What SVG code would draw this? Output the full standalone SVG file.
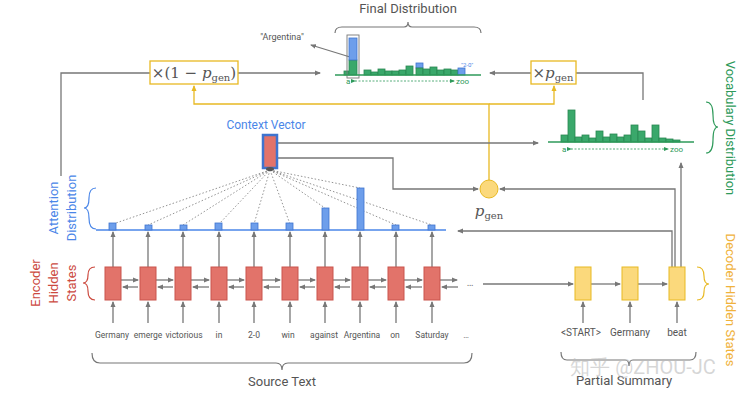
<svg xmlns="http://www.w3.org/2000/svg" width="740" height="401" viewBox="0 0 740 401">
<defs>
<marker id="ar" markerWidth="6" markerHeight="6" refX="5" refY="3" orient="auto" markerUnits="userSpaceOnUse"><path d="M0,0.5 L6,3 L0,5.5 z" fill="#777"/></marker>
<marker id="ay" markerWidth="6" markerHeight="6" refX="5" refY="3" orient="auto" markerUnits="userSpaceOnUse"><path d="M0,0.5 L6,3 L0,5.5 z" fill="#e8b923"/></marker>
<marker id="ag" markerWidth="5" markerHeight="5" refX="4" refY="2.5" orient="auto" markerUnits="userSpaceOnUse"><path d="M0,0.5 L5,2.5 L0,4.5 z" fill="#2e9a5a"/></marker>
</defs>
<style>
text{font-family:Roboto,"Liberation Sans",sans-serif}
.w{font-size:8.5px;fill:#555;text-anchor:middle}
.ln{fill:none;stroke:#777;stroke-width:1.3}
.yl{fill:none;stroke:#e8b923;stroke-width:1.3}
.enc{fill:#e2736a;stroke:#c9554c;stroke-width:1}
.dec{fill:#fbd97c;stroke:#e8b923;stroke-width:1}
.att{fill:#6d9eeb;stroke:#3f74cf;stroke-width:0.8}
.g{fill:#3aa86b;stroke:#2a8752;stroke-width:0.8}
.dot{stroke:#888;stroke-width:0.9;stroke-dasharray:1.5,2;fill:none}
.br{fill:none;stroke:#777;stroke-width:1.2}
.math{font-family:"DejaVu Serif","Liberation Serif",serif;font-size:15px;fill:#555}
</style>
<rect width="740" height="401" fill="#fff"/>

<g id="connectors">
<path class="ln" d="M61,176 V73 H150"/>
<path class="ln" d="M238,73 H320" marker-end="url(#ar)"/>
<path class="ln" d="M643,100 V73 H576"/>
<path class="ln" d="M531,73 H490" marker-end="url(#ar)"/>
<path class="yl" d="M489,181 V104 H194 V86" marker-end="url(#ay)"/>
<path class="yl" d="M489,104 H554 V86" marker-end="url(#ay)"/>
<path class="ln" d="M278,143 H538" marker-end="url(#ar)"/>
<path class="ln" d="M278,158 H393 V189 H478" marker-end="url(#ar)"/>
<path class="ln" d="M675,267 V189 H500" marker-end="url(#ar)"/>
<path class="ln" d="M672,267 V231 H458" marker-end="url(#ar)"/>
<path class="ln" d="M681,267 V163" marker-end="url(#ar)"/>
<path class="ln" d="M483,284 H573" marker-end="url(#ar)"/>
<path class="ln" d="M591,284 H620" marker-end="url(#ar)"/>
<path class="ln" d="M638,284 H667" marker-end="url(#ar)"/>
<g class="dot">
<path d="M270,170 L113,224"/><path d="M270,170 L148,225"/><path d="M270,170 L183,225"/><path d="M270,170 L219,224"/><path d="M270,170 L254,224"/><path d="M270,170 L290,224"/><path d="M270,170 L325,208"/><path d="M270,170 L360,188"/><path d="M270,170 L396,225"/><path d="M270,170 L432,225"/>
</g>
<path class="ln" d="M350,57 L311,45" marker-end="url(#ar)"/>
</g>

<g id="encoder">
<g class="ln">
<path d="M121,280 H138" marker-end="url(#ar)"/><path d="M156,280 H173" marker-end="url(#ar)"/><path d="M191,280 H209" marker-end="url(#ar)"/><path d="M227,280 H244" marker-end="url(#ar)"/><path d="M262,280 H280" marker-end="url(#ar)"/><path d="M298,280 H315" marker-end="url(#ar)"/><path d="M333,280 H350" marker-end="url(#ar)"/><path d="M368,280 H386" marker-end="url(#ar)"/><path d="M404,280 H422" marker-end="url(#ar)"/><path d="M440,280 H457" marker-end="url(#ar)"/>
<path d="M138,287 H123" marker-end="url(#ar)"/><path d="M173,287 H158" marker-end="url(#ar)"/><path d="M209,287 H193" marker-end="url(#ar)"/><path d="M244,287 H229" marker-end="url(#ar)"/><path d="M280,287 H264" marker-end="url(#ar)"/><path d="M315,287 H300" marker-end="url(#ar)"/><path d="M350,287 H335" marker-end="url(#ar)"/><path d="M386,287 H370" marker-end="url(#ar)"/><path d="M422,287 H406" marker-end="url(#ar)"/><path d="M458,287 H442" marker-end="url(#ar)"/>
</g>
<g class="ln">
<path d="M113,323 V302" marker-end="url(#ar)"/><path d="M148,323 V302" marker-end="url(#ar)"/><path d="M183,323 V302" marker-end="url(#ar)"/><path d="M219,323 V302" marker-end="url(#ar)"/><path d="M254,323 V302" marker-end="url(#ar)"/><path d="M290,323 V302" marker-end="url(#ar)"/><path d="M325,323 V302" marker-end="url(#ar)"/><path d="M360,323 V302" marker-end="url(#ar)"/><path d="M396,323 V302" marker-end="url(#ar)"/><path d="M432,323 V302" marker-end="url(#ar)"/>
<path d="M113,267 V232" marker-end="url(#ar)"/><path d="M148,267 V232" marker-end="url(#ar)"/><path d="M183,267 V232" marker-end="url(#ar)"/><path d="M219,267 V232" marker-end="url(#ar)"/><path d="M254,267 V232" marker-end="url(#ar)"/><path d="M290,267 V232" marker-end="url(#ar)"/><path d="M325,267 V232" marker-end="url(#ar)"/><path d="M360,267 V232" marker-end="url(#ar)"/><path d="M396,267 V232" marker-end="url(#ar)"/><path d="M432,267 V232" marker-end="url(#ar)"/>
</g>
<rect class="enc" x="105" y="267" width="16" height="33"/><rect class="enc" x="140" y="267" width="16" height="33"/><rect class="enc" x="175" y="267" width="16" height="33"/><rect class="enc" x="211" y="267" width="16" height="33"/><rect class="enc" x="246" y="267" width="16" height="33"/><rect class="enc" x="282" y="267" width="16" height="33"/><rect class="enc" x="317" y="267" width="16" height="33"/><rect class="enc" x="352" y="267" width="16" height="33"/><rect class="enc" x="388" y="267" width="16" height="33"/><rect class="enc" x="424" y="267" width="16" height="33"/>
<text x="470" y="286" font-size="10" fill="#777" text-anchor="middle">…</text>
<text class="w" x="112" y="338">Germany</text><text class="w" x="148" y="338">emerge</text><text class="w" x="184" y="338">victorious</text><text class="w" x="219" y="338">in</text><text class="w" x="254" y="338">2-0</text><text class="w" x="288" y="338">win</text><text class="w" x="324" y="338">against</text><text class="w" x="362" y="338">Argentina</text><text class="w" x="395" y="338">on</text><text class="w" x="432" y="338">Saturday</text><text class="w" x="466" y="338">…</text>
<path class="br" d="M92,353 Q92,363 100,363 H276 Q282,363 282,370 Q282,363 288,363 H464 Q472,363 472,353"/>
<text x="282" y="386" font-size="13" fill="#555" text-anchor="middle">Source Text</text>
<text transform="translate(40,283) rotate(-90)" font-size="13" fill="#cc4a3f" text-anchor="middle">Encoder</text>
<text transform="translate(58,283) rotate(-90)" font-size="13" fill="#cc4a3f" text-anchor="middle">Hidden</text>
<text transform="translate(76,283) rotate(-90)" font-size="13" fill="#cc4a3f" text-anchor="middle">States</text>
<path fill="none" stroke="#cc4a3f" stroke-width="1.2" d="M95,267 Q88,267 88,275 Q88,283 83,283 Q88,283 88,291 Q88,300 95,300"/>
</g>

<g id="attention">
<line x1="96" y1="230" x2="446" y2="230" stroke="#4a86e8" stroke-width="1.3"/>
<rect class="att" x="109" y="223" width="7" height="7"/><rect class="att" x="145" y="225" width="7" height="5"/><rect class="att" x="180" y="225" width="7" height="5"/><rect class="att" x="215" y="223" width="7" height="7"/><rect class="att" x="251" y="223" width="7" height="7"/><rect class="att" x="286" y="223" width="7" height="7"/><rect class="att" x="322" y="208" width="7" height="22"/><rect class="att" x="357" y="188" width="7" height="42"/><rect class="att" x="392" y="225" width="7" height="5"/><rect class="att" x="428" y="225" width="7" height="5"/>
<text transform="translate(58,208) rotate(-90)" font-size="13" fill="#4a86e8" text-anchor="middle">Attention</text>
<text transform="translate(76,208) rotate(-90)" font-size="13" fill="#4a86e8" text-anchor="middle">Distribution</text>
<path fill="none" stroke="#4a86e8" stroke-width="1.2" d="M96,188 Q89,188 89,198 Q89,208 84,208 Q89,208 89,218 Q89,229 96,229"/>
</g>

<g id="context">
<text x="266" y="129" font-size="12" fill="#4a86e8" text-anchor="middle">Context Vector</text>
<rect x="263" y="135" width="14" height="33" fill="#e2736a" stroke="#3f74cf" stroke-width="2.5"/>
<ellipse cx="270" cy="169" rx="4" ry="2" fill="#555"/>
</g>

<g id="pgen">
<circle cx="489" cy="189" r="9" fill="#fbd97c" stroke="#e8b923"/>
<text x="489" y="216" class="math" text-anchor="middle" font-style="italic">p<tspan font-size="10" font-style="normal" dy="3">gen</tspan></text>
</g>

<g id="mult1">
<rect x="150" y="61" width="88" height="23" fill="#fff" stroke="#e8b923" stroke-width="1.3"/>
<text x="194" y="78" class="math" text-anchor="middle">×(1 − <tspan font-style="italic">p</tspan><tspan font-size="10" dy="3">gen</tspan><tspan dy="-3">)</tspan></text>
</g>
<g id="mult2">
<rect x="531" y="61" width="45" height="23" fill="#fff" stroke="#e8b923" stroke-width="1.3"/>
<text x="553" y="78" class="math" text-anchor="middle">×<tspan font-style="italic">p</tspan><tspan font-size="10" dy="3">gen</tspan></text>
</g>

<g id="final">
<text x="408" y="13" font-size="13" fill="#555" text-anchor="middle">Final Distribution</text>
<path class="br" d="M335,33 Q335,27 342,27 H404 Q408,27 408,22 Q408,27 412,27 H474 Q481,27 481,33"/>
<rect class="g" x="344" y="71" width="5" height="4"/>
<rect class="g" x="349" y="60" width="8" height="15"/><rect class="att" x="349" y="38" width="8" height="22"/>
<rect x="347" y="35" width="12" height="43" fill="none" stroke="#777" stroke-width="0.9"/>
<rect class="g" x="364" y="70" width="7" height="5"/><rect class="g" x="371" y="72" width="7" height="3"/><rect class="g" x="378" y="69" width="7" height="6"/><rect class="g" x="385" y="71" width="7" height="4"/><rect class="g" x="392" y="71" width="7" height="4"/><rect class="g" x="399" y="70" width="7" height="5"/><rect class="g" x="406" y="66" width="7" height="9"/><rect class="att" x="416" y="63" width="7" height="5"/><rect class="g" x="416" y="68" width="7" height="7"/><rect class="g" x="423" y="69" width="7" height="6"/><rect class="g" x="430" y="67" width="7" height="8"/><rect class="g" x="437" y="70" width="7" height="5"/><rect class="g" x="444" y="69" width="7" height="6"/><rect class="g" x="451" y="70" width="7" height="5"/><rect class="att" x="458" y="68" width="7" height="7"/>
<line x1="335" y1="75" x2="481" y2="75" stroke="#2e9a5a" stroke-width="1.3"/>
<text x="461" y="67" font-size="6" fill="#4a86e8">"2-0"</text>
<text x="346" y="84" font-size="8" fill="#2e9a5a">a</text>
<path d="M355,81 H454" stroke="#2e9a5a" stroke-width="0.8" stroke-dasharray="2,1.5" marker-start="url(#ag)" marker-end="url(#ag)" fill="none"/>
<text x="456" y="84" font-size="8" fill="#2e9a5a">zoo</text>
<text x="282" y="40" font-size="9" fill="#555" text-anchor="middle">"Argentina"</text>
</g>

<g id="vocab">
<rect class="g" x="561" y="135" width="7" height="7"/><rect class="g" x="568" y="110" width="7" height="32"/><rect class="g" x="575" y="137" width="7" height="5"/><rect class="g" x="582" y="135" width="7" height="7"/><rect class="g" x="589" y="138" width="7" height="4"/><rect class="g" x="596" y="131" width="7" height="11"/><rect class="g" x="603" y="137" width="7" height="5"/><rect class="g" x="610" y="134" width="7" height="8"/><rect class="g" x="617" y="137" width="7" height="5"/><rect class="g" x="624" y="135" width="7" height="7"/><rect class="g" x="631" y="125" width="7" height="17"/><rect class="g" x="638" y="131" width="7" height="11"/><rect class="g" x="645" y="138" width="7" height="4"/><rect class="g" x="652" y="125" width="7" height="17"/><rect class="g" x="659" y="138" width="7" height="4"/><rect class="g" x="666" y="139" width="7" height="3"/><rect class="g" x="673" y="140" width="7" height="2"/>
<line x1="548" y1="142" x2="694" y2="142" stroke="#2e9a5a" stroke-width="1.3"/>
<text x="562" y="152" font-size="8" fill="#2e9a5a">a</text>
<path d="M571,149 H668" stroke="#2e9a5a" stroke-width="0.8" stroke-dasharray="2,1.5" marker-start="url(#ag)" marker-end="url(#ag)" fill="none"/>
<text x="670" y="152" font-size="8" fill="#2e9a5a">zoo</text>
<path fill="none" stroke="#2e9a5a" stroke-width="1.2" d="M706,102 Q713,102 713,115 Q713,127 718,127 Q713,127 713,140 Q713,153 706,153"/>
<text transform="translate(726,128) rotate(90)" font-size="13" fill="#2e9a5a" text-anchor="middle">Vocabulary Distribution</text>
</g>

<g id="decoder">
<rect class="dec" x="575" y="267" width="16" height="33"/><rect class="dec" x="622" y="267" width="16" height="33"/><rect class="dec" x="669" y="267" width="16" height="33"/>
<g class="ln"><path d="M583,323 V302" marker-end="url(#ar)"/><path d="M630,323 V302" marker-end="url(#ar)"/><path d="M677,323 V302" marker-end="url(#ar)"/></g>
<text x="581" y="336" font-size="10" fill="#555" text-anchor="middle">&lt;START&gt;</text>
<text x="630" y="336" font-size="10" fill="#555" text-anchor="middle">Germany</text>
<text x="677" y="336" font-size="10" fill="#555" text-anchor="middle">beat</text>
<path fill="none" stroke="#e8b923" stroke-width="1.2" d="M697,267 Q704,267 704,276 Q704,284 709,284 Q704,284 704,292 Q704,300 697,300"/>
<text transform="translate(726,300) rotate(90)" font-size="13" fill="#f0b23c" text-anchor="middle">Decoder Hidden States</text>
<path class="br" d="M561,352 Q561,360 567,360 H625 Q629,360 629,366 Q629,360 633,360 H690 Q696,360 696,352"/>
<text x="624" y="385" font-size="13" fill="#555" text-anchor="middle">Partial Summary</text>
</g>
<text x="643" y="374" font-size="20" fill="#bbb" fill-opacity="0.6" text-anchor="middle" font-family="'Noto Sans CJK SC',sans-serif">知乎 @ZHOU-JC</text>
</svg>
